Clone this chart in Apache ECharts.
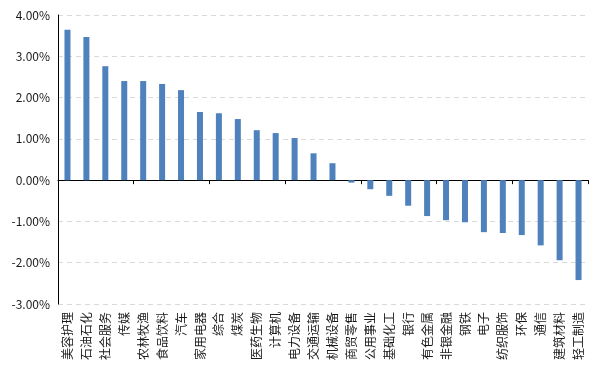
<!DOCTYPE html>
<html>
<head>
<meta charset="utf-8">
<script src="https://cdn.jsdelivr.net/npm/echarts@6/dist/echarts.min.js"></script>
<style>
  html, body { margin: 0; padding: 0; background: #fff; }
  #chart { width: 604px; height: 376px; }
</style>
</head>
<body>
<div id="chart"></div>
<script>
// 行业涨跌幅（%）
const categories = ['美容护理', '石油石化', '社会服务', '传媒', '农林牧渔', '食品饮料', '汽车', '家用电器', '综合', '煤炭',
  '医药生物', '计算机', '电力设备', '交通运输', '机械设备', '商贸零售', '公用事业', '基础化工', '银行', '有色金属',
  '非银金融', '钢铁', '电子', '纺织服饰', '环保', '通信', '建筑材料', '轻工制造']
const values = [3.64, 3.47, 2.76, 2.40, 2.40, 2.33, 2.18, 1.65, 1.62, 1.48,
  1.21, 1.14, 1.02, 0.65, 0.41, -0.06, -0.22, -0.38, -0.62, -0.87,
  -0.97, -1.02, -1.26, -1.28, -1.33, -1.58, -1.94, -2.42]

const chart = echarts.init(document.getElementById('chart'))
chart.setOption({
  animation: false,
  grid: { left: 58, right: 16, top: 15, bottom: 72 },
  xAxis: [
    {
      // 零轴线和刻度
      type: 'category',
      data: categories,
      axisLine: { onZero: true, lineStyle: { color: '#000', width: 1 } },
      axisTick: { show: true, length: 4, lineStyle: { color: '#000' } },
      axisLabel: { show: false }
    },
    {
      // 底部标签
      type: 'category',
      data: categories,
      position: 'bottom',
      axisLine: { show: false, onZero: false },
      axisTick: { show: false },
      axisLabel: {
        interval: 0,
        rotate: 90,
        margin: 8,
        fontSize: 12,
        color: '#1a1a1a',
        fontFamily: 'Noto Sans CJK SC'
      }
    }
  ],
  yAxis: {
    type: 'value',
    min: -3,
    max: 4,
    interval: 1,
    axisLine: { show: true, lineStyle: { color: '#000' } },
    axisTick: { show: false },
    axisLabel: {
      margin: 8,
      fontSize: 12,
      color: '#1a1a1a',
      fontFamily: 'Noto Sans CJK SC',
      formatter: v => v.toFixed(2) + '%'
    },
    splitLine: { lineStyle: { color: '#d9d9d9', type: [5, 4] } }
  },
  series: [
    {
      type: 'bar',
      xAxisIndex: 0,
      data: values,
      barWidth: 6,
      itemStyle: { color: '#4F81BD' }
    }
  ]
})
</script>
</body>
</html>
